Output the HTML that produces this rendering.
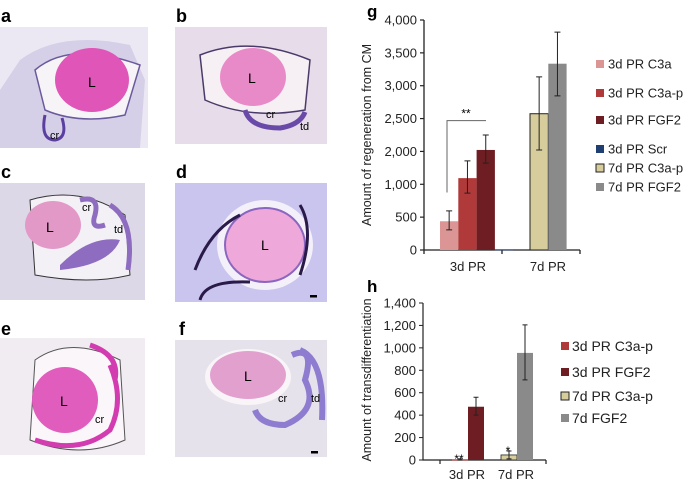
<!DOCTYPE html>
<html><head><meta charset="utf-8"><style>
body{margin:0;background:#fff;width:685px;height:483px;overflow:hidden;font-family:"Liberation Sans",sans-serif}
svg{position:absolute;left:0;top:0}
</style></head><body>
<svg width="685" height="483" font-family="Liberation Sans, sans-serif">
<g>
 <g>
  <text x="1" y="22" font-size="18" font-weight="bold">a</text>
  <rect x="0" y="27" width="148" height="121" fill="#ece8f3"/>
  <path d="M20 60 Q60 30 130 45 L145 80 L140 148 L0 148 L0 90 Z" fill="#d6cfe8"/>
  <path d="M35 70 Q70 40 140 65 L125 115 Q80 125 45 110 Z" fill="#f7f4f8" stroke="#6a5a9c" stroke-width="1.5"/>
  <ellipse cx="92" cy="80" rx="37" ry="32" fill="#e055b8"/>
  <path d="M45 115 Q40 140 55 140 Q68 138 62 118" fill="none" stroke="#5a3fa0" stroke-width="3"/>
  <text x="88" y="87" font-size="14">L</text><text x="50" y="139" font-size="11">cr</text>
 </g>
 <g>
  <text x="176" y="22" font-size="18" font-weight="bold">b</text>
  <rect x="175" y="27" width="152" height="117" fill="#e6dcea"/>
  <path d="M200 55 Q250 35 310 60 L305 110 Q250 120 205 100 Z" fill="#f6f0f4" stroke="#4a3a6a" stroke-width="1.5"/>
  <ellipse cx="253" cy="77" rx="33" ry="29" fill="#e98ac8"/>
  <path d="M245 110 Q250 128 280 128 Q300 125 305 112" fill="none" stroke="#6a4aa8" stroke-width="5"/>
  <text x="248" y="83" font-size="14">L</text><text x="266" y="118" font-size="11">cr</text><text x="300" y="130" font-size="11">td</text>
 </g>
 <g>
  <text x="1" y="178" font-size="18" font-weight="bold">c</text>
  <rect x="0" y="183" width="145" height="117" fill="#ddd8e8"/>
  <path d="M30 200 Q80 185 125 215 L130 275 Q90 285 35 275 Z" fill="#f3f0f6" stroke="#333" stroke-width="1"/>
  <ellipse cx="53" cy="225" rx="28" ry="24" fill="#e399c8"/>
  <path d="M60 265 Q90 235 120 240 Q110 265 60 270 Z" fill="#8e6cbf"/>
  <path d="M80 200 Q100 195 95 215 Q90 230 105 225 M110 205 Q135 220 128 270" fill="none" stroke="#8e6cbf" stroke-width="5"/>
  <text x="46" y="232" font-size="14">L</text><text x="82" y="211" font-size="11">cr</text><text x="114" y="233" font-size="11">td</text>
 </g>
 <g>
  <text x="176" y="178" font-size="18" font-weight="bold">d</text>
  <rect x="175" y="183" width="152" height="119" fill="#c9c5ee"/>
  <ellipse cx="265" cy="245" rx="48" ry="45" fill="#f4f0fa"/>
  <ellipse cx="265" cy="245" rx="40" ry="37" fill="#eea8da" stroke="#8a66c0" stroke-width="2"/>
  <path d="M195 270 Q210 230 240 215 M300 205 Q315 230 300 275 M200 300 Q205 280 250 282" fill="none" stroke="#2a1a4a" stroke-width="3"/>
  <rect x="310" y="295" width="7" height="2.5" fill="#000"/>
  <text x="261" y="250" font-size="14">L</text>
 </g>
 <g>
  <text x="1" y="335" font-size="18" font-weight="bold">e</text>
  <rect x="0" y="338" width="145" height="117" fill="#f1ebf2"/>
  <path d="M35 360 Q70 335 120 360 L125 440 Q80 460 30 440 Z" fill="#faf6fa" stroke="#555" stroke-width="1"/>
  <ellipse cx="65" cy="400" rx="33" ry="33" fill="#e05cbd"/>
  <path d="M35 440 Q80 455 110 430 Q125 400 110 365 M90 345 Q120 355 115 380" fill="none" stroke="#d33cb0" stroke-width="5"/>
  <text x="60" y="406" font-size="14">L</text><text x="95" y="423" font-size="11">cr</text>
 </g>
 <g>
  <text x="179" y="335" font-size="18" font-weight="bold">f</text>
  <rect x="175" y="340" width="152" height="117" fill="#e6e2ec"/>
  <ellipse cx="248" cy="377" rx="43" ry="28" fill="#f8f4f8"/>
  <ellipse cx="248" cy="375" rx="38" ry="24" fill="#e2a0cf"/>
  <path d="M292 355 Q315 345 305 380 Q320 410 285 425 Q260 425 255 410 M300 350 Q325 360 322 420" fill="none" stroke="#8d7ccf" stroke-width="6"/>
  <rect x="311" y="451" width="7" height="2.5" fill="#000"/>
  <text x="244" y="381" font-size="14">L</text><text x="278" y="402" font-size="11">cr</text><text x="311" y="402" font-size="11">td</text>
 </g>
</g>
<g id="chartG">
 <text x="367" y="17" font-size="17" font-weight="bold">g</text>
 <text transform="translate(371,135) rotate(-90)" font-size="12.5" text-anchor="middle" fill="#222">Amount of regeneration from CM</text>
</g>
<g id="chartH">
 <text x="367" y="292" font-size="17" font-weight="bold">h</text>
 <text transform="translate(371,380) rotate(-90)" font-size="12.5" text-anchor="middle" fill="#222">Amount of transdifferentiation</text>
</g>
</svg>
<script>
const NS='http://www.w3.org/2000/svg';
// chart g data
const gTickLabels=['0','500','1,000','2,000','2,500','3,000','3,500','4,000'];
const gSeries=['3d PR C3a','3d PR C3a-p','3d PR FGF2','3d PR Scr','7d PR C3a-p','7d PR FGF2'];
const gValues=[500,1250,1740,10,2370,3240];
const gErrLow=[350,990,1510,10,1740,2680];
const gErrHigh=[680,1550,2000,10,3010,3790];
const gColors=['#dc9595','#b03a3a','#6e1e22','#1f3f73','#d6cc9c','#8a8a8a'];
const gCategories=['3d PR','7d PR'];
// chart h data
const hTickLabels=['0','200','400','600','800','1,000','1,200','1,400'];
const hSeries=['3d PR C3a-p','3d PR FGF2','7d PR C3a-p','7d FGF2'];
const hValues=[4,475,45,955];
const hErrLow=[0,400,10,715];
const hErrHigh=[10,560,80,1205];
const hColors=['#b03a3a','#6e1e22','#d6cc9c','#8a8a8a'];
const hCategories=['3d PR','7d PR'];

function mk(parent,tag,attrs){const e=document.createElementNS(NS,tag);for(const k in attrs)e.setAttribute(k,attrs[k]);parent.appendChild(e);return e;}

// ---- chart g ----
(function(){
 const g=document.getElementById('chartG');
 const x0=424,xEnd=580,y0=250,yTop=20,vmax=4000;
 const y=v=>y0-(v/vmax)*(y0-yTop);
 const ax=mk(g,'path',{d:`M${x0} ${yTop} V${y0} H${xEnd} M${x0} ${y0} v4 M${xEnd} ${y0} v4 M502 ${y0} v4`,stroke:'#222','stroke-width':1.3,fill:'none'});
 
 
 gTickLabels.forEach((t,i)=>{
  const ty=y0-i*(y0-yTop)/(gTickLabels.length-1);
  const tk=mk(g,'line',{x1:x0-4,x2:x0,y1:ty,y2:ty,stroke:'#222','stroke-width':1.2});
  
  
  const tl=mk(g,'text',{x:x0-7,y:ty+4.5,'font-size':13,'text-anchor':'end',fill:'#222'});tl.textContent=t;
  
  
 });
 const bw=18.3;
 const starts=[440,440+bw,440+2*bw,440+3*bw,530,530+bw];
 gValues.forEach((v,i)=>{
  const b=mk(g,'rect',{x:starts[i],y:y(v),width:bw,height:Math.max(y0-y(v),1),fill:gColors[i],stroke:i==4?'#222':'none','stroke-width':i==4?1:0});
  
  
  if(i!=3){const cx=starts[i]+bw/2;
  const eb=mk(g,'path',{d:`M${cx} ${y(gErrHigh[i])} V${y(gErrLow[i])} M${cx-3} ${y(gErrHigh[i])} h6 M${cx-3} ${y(gErrLow[i])} h6`,stroke:'#222','stroke-width':1,fill:'none'});
  
  }
 });
 const sig=mk(g,'path',{d:`M447 ${y(1000)} V${y(2250)} H486`,stroke:'#666','stroke-width':1,fill:'none'});
 
 
 const st=mk(g,'text',{x:466,y:y(2250)-3,'font-size':12,'text-anchor':'middle'});st.textContent='**';
 
 
 [468,548].forEach((cx,i)=>{const t=mk(g,'text',{x:cx,y:271,'font-size':13,'text-anchor':'middle',fill:'#222'});t.textContent=gCategories[i];
  
  });
 const ly=[64,93,120,149,168,187];
 gSeries.forEach((s,i)=>{
  const sw=mk(g,'rect',{x:596,y:ly[i]-4,width:8,height:8,fill:gColors[i],stroke:i==4?'#222':'none','stroke-width':1});
  
  
  const t=mk(g,'text',{x:608,y:ly[i]+4.5,'font-size':13,fill:'#222'});t.textContent=s;
  
  
 });
})();

// ---- chart h ----
(function(){
 const g=document.getElementById('chartH');
 const x0=423,xEnd=546,y0=460,yTop=303,vmax=1400;
 const y=v=>y0-(v/vmax)*(y0-yTop);
 const ax=mk(g,'path',{d:`M${x0} ${yTop} V${y0} H${xEnd} M440 ${y0} v4 M${xEnd} ${y0} v4`,stroke:'#222','stroke-width':1.2,fill:'none'});
 
 
 hTickLabels.forEach((t,i)=>{
  const ty=y0-i*(y0-yTop)/(hTickLabels.length-1);
  const tk=mk(g,'line',{x1:x0-4,x2:x0,y1:ty,y2:ty,stroke:'#222','stroke-width':1});
  
  
  const tl=mk(g,'text',{x:x0-7,y:ty+4.5,'font-size':13,'text-anchor':'end',fill:'#222'});tl.textContent=t;
  
  
 });
 const bw=16;
 const starts=[452,468,501,517];
 hValues.forEach((v,i)=>{
  const b=mk(g,'rect',{x:starts[i],y:y(v),width:bw,height:Math.max(y0-y(v),1),fill:hColors[i],stroke:i==2?'#222':'none','stroke-width':i==2?0.8:0});
  
  
  const cx=starts[i]+bw/2;
  const eb=mk(g,'path',{d:`M${cx} ${y(hErrHigh[i])} V${y(hErrLow[i])} M${cx-2.5} ${y(hErrHigh[i])} h5 M${cx-2.5} ${y(hErrLow[i])} h5`,stroke:'#222','stroke-width':1,fill:'none'});
  
  
 });
 [['**',459,y(10)-2],['*',508,y(80)-2]].forEach(a=>{const t=mk(g,'text',{x:a[1],y:a[2]+6,'font-size':12,'text-anchor':'middle'});t.textContent=a[0];
  
  });
 [467,516].forEach((cx,i)=>{const t=mk(g,'text',{x:cx,y:479,'font-size':13,'text-anchor':'middle',fill:'#222'});t.textContent=hCategories[i];
  
  });
 const ly=[346,372,396,418];
 hSeries.forEach((s,i)=>{
  const sw=mk(g,'rect',{x:561,y:ly[i]-4,width:8,height:8,fill:hColors[i],stroke:i==2?'#222':'none','stroke-width':1});
  
  
  const t=mk(g,'text',{x:572,y:ly[i]+5,'font-size':14,fill:'#222'});t.textContent=s;
  
  
 });
})();
</script>
</body></html>
